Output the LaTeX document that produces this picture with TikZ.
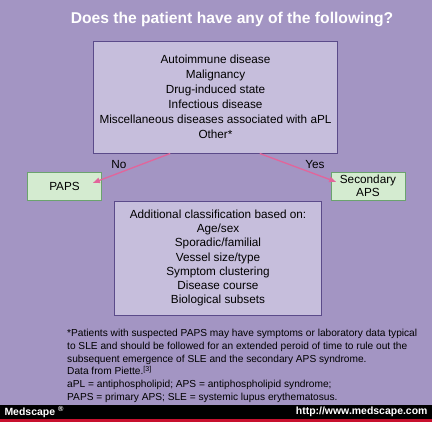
\documentclass[tikz,border=0pt]{standalone}
\usepackage{fontspec}
\setmainfont{Liberation Sans}
\setsansfont{Liberation Sans}
\usetikzlibrary{arrows.meta, positioning}
\definecolor{fondoLila}{HTML}{A395C3}
\definecolor{cajaLila}{HTML}{C6BEDC}
\definecolor{bordeLila}{HTML}{5B4B8A}
\definecolor{cajaVerde}{HTML}{D4EBD0}
\definecolor{bordeVerde}{HTML}{6BA36E}
\definecolor{flechaRosa}{HTML}{E2659B}
\definecolor{barraRoja}{HTML}{C8102E}

\begin{document}
\begin{tikzpicture}[x=1bp, y=-1bp, font=\sffamily, >=Latex,
        caja/.style={draw=bordeLila, fill=cajaLila, line width=1bp, align=center,
            inner sep=0pt, font=\fontsize{11.8}{15}\selectfont},
        resultado/.style={draw=bordeVerde, fill=cajaVerde, line width=1bp, align=center,
            inner sep=0pt, minimum height=28bp, font=\fontsize{11.8}{13}\selectfont},
        flecha/.style={-{Latex[length=2.6mm, width=2.2mm]}, flechaRosa, line width=1.3bp},
        etiqueta/.style={font=\fontsize{11.8}{13}\selectfont}]
        \useasboundingbox (0,0) rectangle (432,422);
        \fill[fondoLila] (0,0) rectangle (432,405);
        \fill[black] (0,405) rectangle (432,419);
        \fill[barraRoja] (0,419) rectangle (432,422);
        \node[text=white, font=\fontsize{15.7}{18}\selectfont\bfseries] (titulo) at (232,19)
            {Does the patient have any of the following?};
        \node[caja, minimum width=243bp, minimum height=112bp] (pregunta) at (215.5,97)
            {Autoimmune disease\\ Malignancy\\ Drug-induced state\\ Infectious disease\\
             Miscellaneous diseases associated with aPL\\ Other*};
        \node[resultado, minimum width=73bp] (paps) at (64.5,186) {PAPS};
        \node[resultado, minimum width=74bp] (sec) at (368,186) {Secondary\\ APS};
        \node[caja, minimum width=206bp, minimum height=114bp,
            font=\fontsize{11.8}{14.3}\selectfont] (clasif) at (218,258)
            {Additional classification based on:\\ Age/sex\\ Sporadic/familial\\
             Vessel size/type\\ Symptom clustering\\ Disease course\\ Biological subsets};
        \draw[flecha] ([xshift=-45.5pt]pregunta.south) -- ([xshift=-9pt, yshift=3pt]paps.east);
        \draw[flecha] ([xshift=44.5pt]pregunta.south) -- ([xshift=6pt, yshift=4pt]sec.west);
        \node[etiqueta] (no) at (119,165) {No};
        \node[etiqueta] (si) at (315,165) {Yes};
        \node[anchor=north west, align=left, inner sep=0pt,
            font=\fontsize{10.2}{12.8}\selectfont] (nota) at (67,329)
            {*Patients with suspected PAPS may have symptoms or laboratory data typical\\
             to SLE and should be followed for an extended peroid of time to rule out the\\
             subsequent emergence of SLE and the secondary APS syndrome.\\
             Data from Piette.\textsuperscript{[3]}\\
             aPL = antiphospholipid; APS = antiphospholipid syndrome;\\
             PAPS = primary APS; SLE = systemic lupus erythematosus.};
        \node[anchor=west, text=white, font=\fontsize{10.5}{12}\selectfont\bfseries] (marca) at (1,412)
            {Medscape \textsuperscript{\textregistered}};
        \node[anchor=east, text=white, font=\fontsize{10.5}{12}\selectfont\bfseries] (web) at (431,412)
            {http://www.medscape.com};
    \end{tikzpicture}
\end{document}
